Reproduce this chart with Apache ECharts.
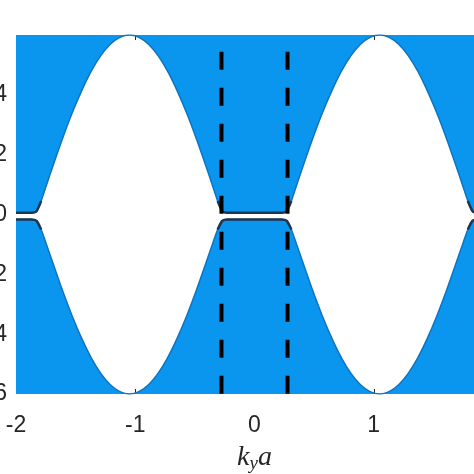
<!DOCTYPE html>
<html>
<head>
<meta charset="utf-8">
<script src="https://cdn.jsdelivr.net/npm/echarts@6/dist/echarts.min.js"></script>
<style>
  html, body { margin: 0; padding: 0; background: #fff; }
  #chart { width: 474px; height: 474px; }
</style>
</head>
<body>
<div id="chart"></div>
<script>
// k_y a sample points
var kPts = [-2.0, -1.93, -1.87, -1.845, -1.826, -1.789, -1.749, -1.689, -1.609, -1.529,
            -1.449, -1.369, -1.289, -1.209, -1.129, -1.049, -0.969, -0.889, -0.809, -0.729,
            -0.649, -0.569, -0.489, -0.409, -0.349, -0.309, -0.272, -0.253, -0.23, -0.12, 0,
            0.12, 0.23, 0.253, 0.272, 0.309, 0.349, 0.409, 0.489, 0.569, 0.649,
            0.729, 0.809, 0.889, 0.969, 1.049, 1.129, 1.209, 1.289, 1.369, 1.449,
            1.529, 1.609, 1.689, 1.749, 1.789, 1.826, 1.845, 1.87, 1.93, 2.0];
// lower edge of the upper (blue) band
var upperEdge = [0.006, 0.006, 0.006, 0.007, 0.012, 0.045, 0.093, 0.164, 0.255, 0.339,
                 0.414, 0.479, 0.531, 0.569, 0.592, 0.600, 0.592, 0.569, 0.531, 0.479,
                 0.414, 0.339, 0.255, 0.164, 0.093, 0.045, 0.012, 0.007, 0.006, 0.006, 0.006,
                 0.006, 0.006, 0.007, 0.012, 0.045, 0.093, 0.164, 0.255, 0.339, 0.414,
                 0.479, 0.531, 0.569, 0.592, 0.600, 0.592, 0.569, 0.531, 0.479, 0.414,
                 0.339, 0.255, 0.164, 0.093, 0.045, 0.012, 0.007, 0.006, 0.006, 0.006];
// upper edge of the lower (blue) band
var lowerEdge = [-0.017, -0.017, -0.017, -0.018, -0.022, -0.050, -0.095, -0.164, -0.255, -0.339,
                 -0.414, -0.479, -0.531, -0.569, -0.592, -0.600, -0.592, -0.569, -0.531, -0.479,
                 -0.414, -0.339, -0.255, -0.164, -0.095, -0.050, -0.022, -0.018, -0.017, -0.017, -0.017,
                 -0.017, -0.017, -0.018, -0.022, -0.050, -0.095, -0.164, -0.255, -0.339, -0.414,
                 -0.479, -0.531, -0.569, -0.592, -0.600, -0.592, -0.569, -0.531, -0.479, -0.414,
                 -0.339, -0.255, -0.164, -0.095, -0.050, -0.022, -0.018, -0.017, -0.017, -0.017];
// dashed vertical markers
var dashK = [-0.277, 0.277];

var blue = '#0a96ee';
var rim = '#0f74bf';
var edgeCol = '#1d3550';

function pairs(ys) {
    var out = [];
    for (var i = 0; i < kPts.length; i++) out.push([kPts[i], ys[i]]);
    return out;
}
// edge states: only the part of the band edges close to E = 0
function edgePart(ys) {
    var out = [];
    for (var i = 0; i < kPts.length; i++) {
        out.push([kPts[i], Math.abs(ys[i]) < 0.07 ? ys[i] : '-']);
    }
    return out;
}

var series = [
    {
        type: 'line', data: pairs(upperEdge), showSymbol: false, smooth: 0.25,
        lineStyle: { color: rim, width: 1.5 },
        areaStyle: { color: blue, opacity: 1, origin: 'end' }, z: 2
    },
    {
        type: 'line', data: pairs(lowerEdge), showSymbol: false, smooth: 0.25,
        lineStyle: { color: rim, width: 1.5 },
        areaStyle: { color: blue, opacity: 1, origin: 'start' }, z: 2
    },
    {
        type: 'line', data: edgePart(upperEdge), showSymbol: false, smooth: 0.25,
        lineStyle: { color: edgeCol, width: 2.5 }, z: 3
    },
    {
        type: 'line', data: edgePart(lowerEdge), showSymbol: false, smooth: 0.25,
        lineStyle: { color: edgeCol, width: 2.5 }, z: 3
    }
];
dashK.forEach(function (k) {
    series.push({
        type: 'line', data: [[k, 0.6], [k, -0.6]], showSymbol: false,
        lineStyle: { color: '#000', width: 4, type: [18, 18], dashOffset: 19.3 }, z: 4
    });
});

var tickFont = { fontFamily: 'Liberation Sans', fontSize: 23, color: '#262626' };
var nameFont = { fontFamily: 'Liberation Serif', fontStyle: 'italic', color: '#262626', verticalAlign: 'middle' };

var option = {
    animation: false,
    grid: { left: 16, top: 35, width: 477, height: 359, containLabel: false, outerBoundsMode: 'none' },
    xAxis: [
        {
            type: 'value', min: -2, max: 2, interval: 1,
            axisLine: { show: false, onZero: false },
            axisTick: { inside: true, length: 5, lineStyle: { color: '#262626' } },
            splitLine: { show: false },
            axisLabel: Object.assign({ margin: 20 }, tickFont),
            name: '{k|k}{y|y}{a|a}',
            nameLocation: 'middle',
            nameGap: 32,
            nameTextStyle: {
                rich: {
                    k: Object.assign({ fontSize: 28, lineHeight: 28 }, nameFont),
                    y: Object.assign({ fontSize: 19, lineHeight: 19, padding: [13, 0, 0, 0] }, nameFont),
                    a: Object.assign({ fontSize: 28, lineHeight: 28 }, nameFont)
                }
            }
        },
        {
            type: 'value', position: 'top', min: -2, max: 2, interval: 1,
            axisLine: { show: false, onZero: false },
            axisTick: { inside: true, length: 5, lineStyle: { color: '#262626' } },
            axisLabel: { show: false },
            splitLine: { show: false }
        }
    ],
    yAxis: {
        type: 'value', min: -0.6, max: 0.6, interval: 0.2,
        axisLine: { show: false, onZero: false },
        axisTick: { show: false },
        splitLine: { show: false },
        axisLabel: Object.assign({ margin: 9, showMaxLabel: false }, tickFont)
    },
    series: series
};

var myChart = echarts.init(document.getElementById('chart'));
myChart.setOption(option);
</script>
</body>
</html>
